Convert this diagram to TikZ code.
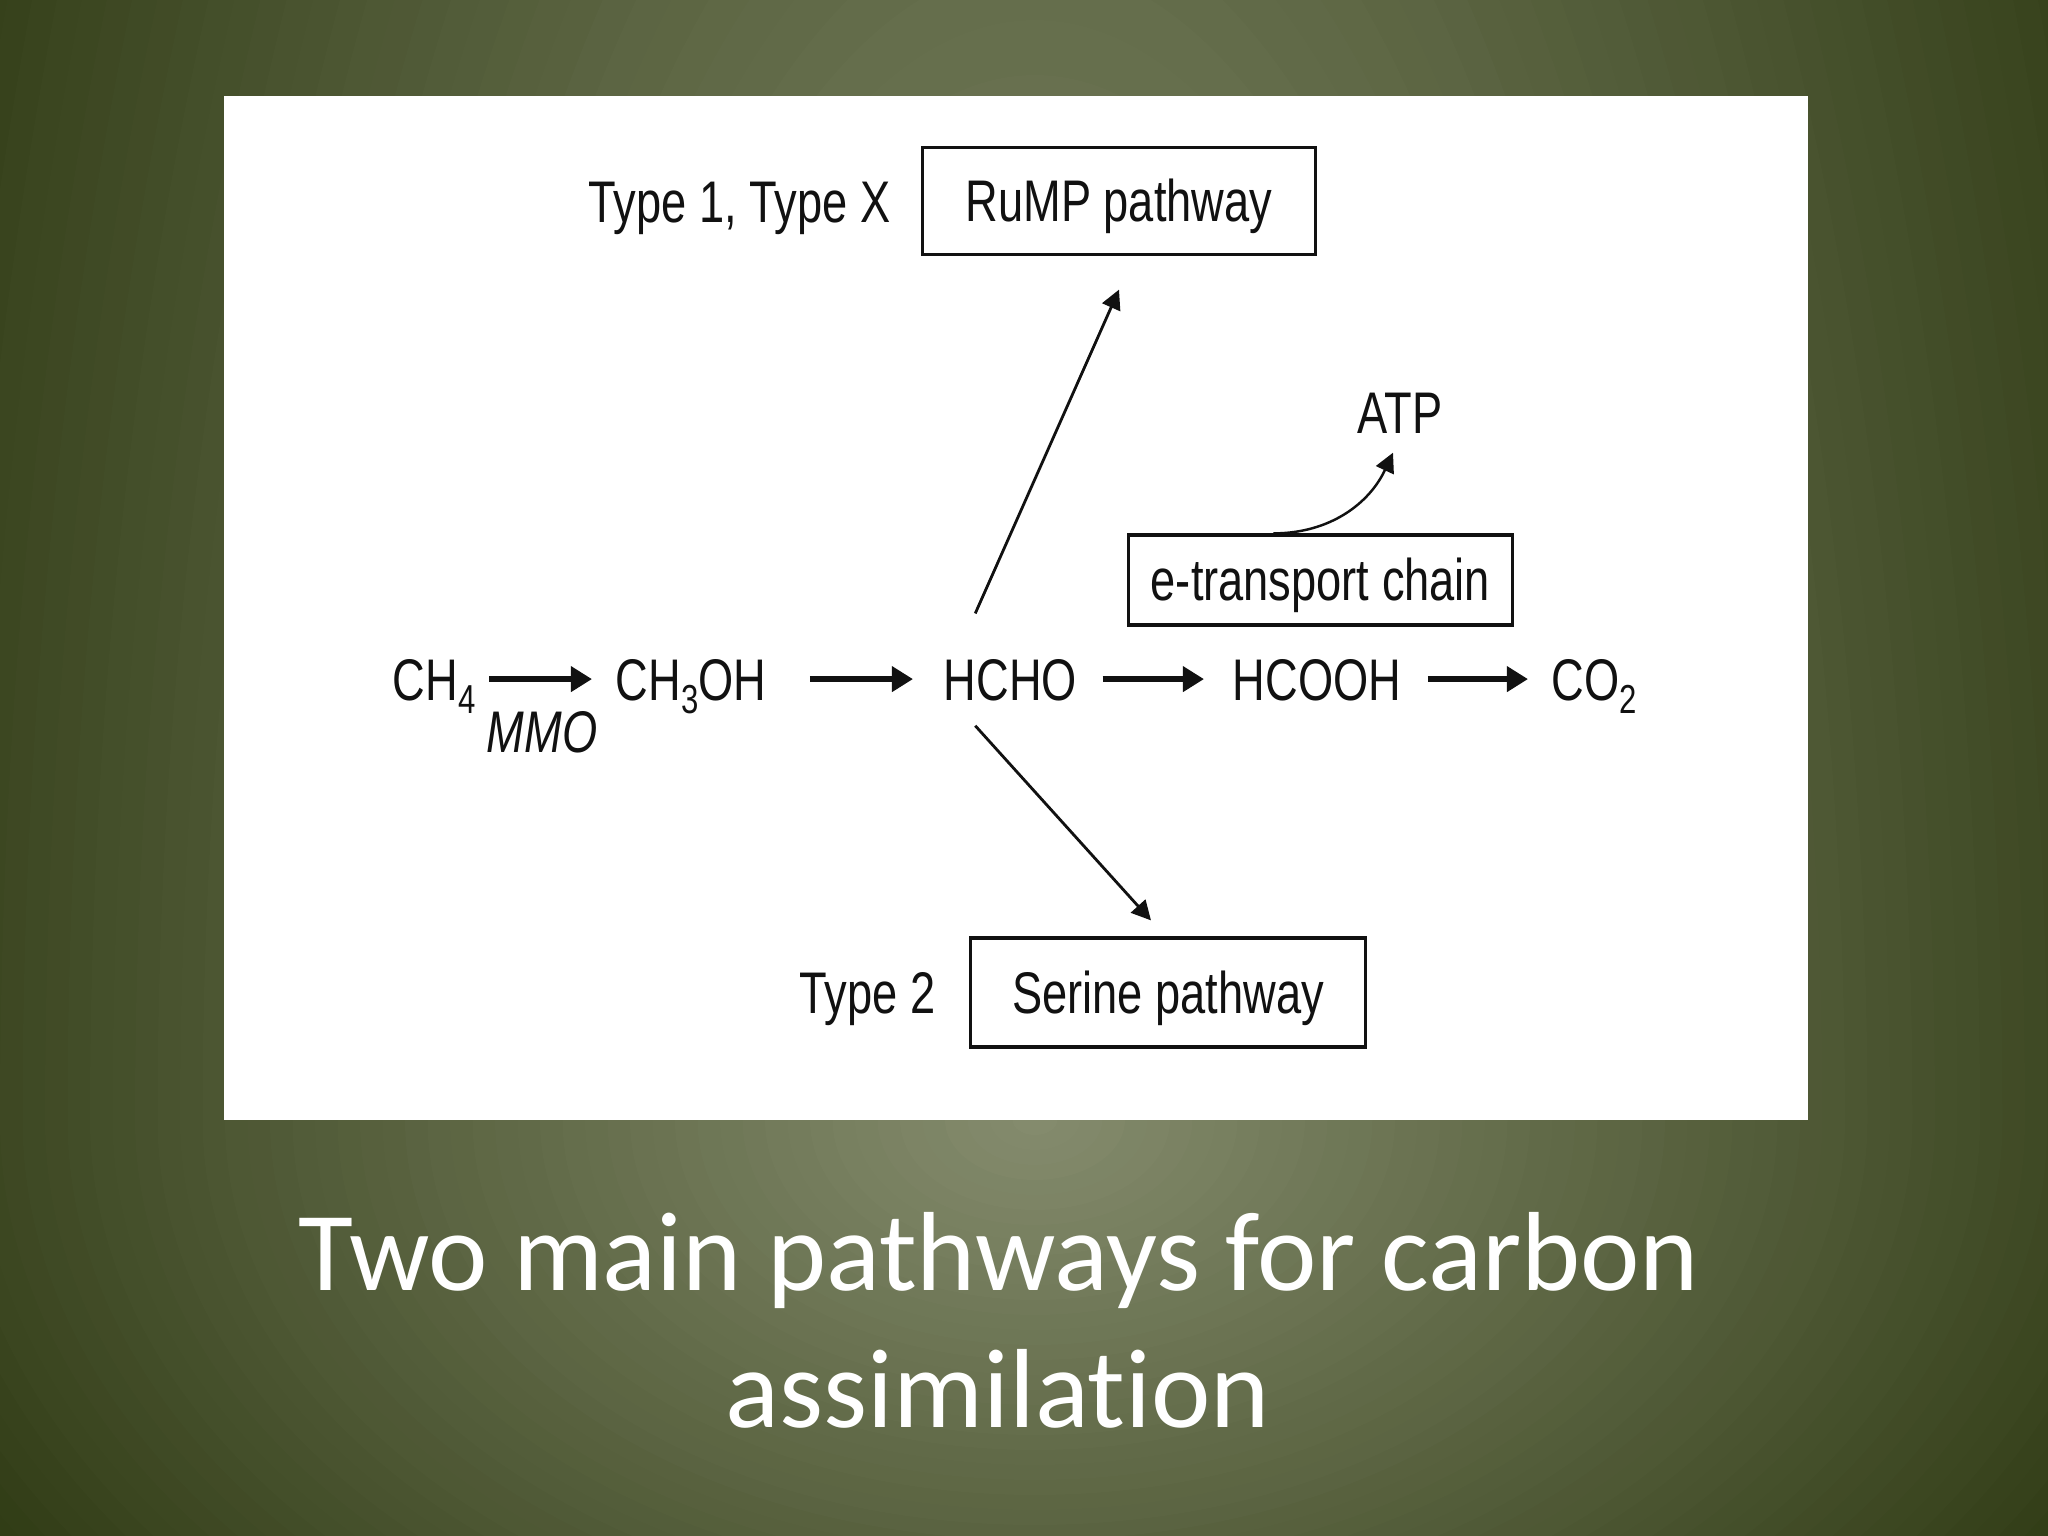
\documentclass[tikz,border=0pt]{standalone}
\usepackage{fontspec}
\setmainfont[FakeStretch=0.77]{Liberation Sans}
\newfontfamily\captionfont[Ligatures=NoCommon]{Carlito}
\usetikzlibrary{arrows.meta}

\definecolor{slidelight}{RGB}{134,141,111}
\definecolor{slidedark}{RGB}{40,52,12}
\definecolor{inkblack}{RGB}{17,17,17}

\newcommand{\diagfont}{\fontsize{16.7}{20}\selectfont}
\newcommand{\chemsub}[1]{\raisebox{-3.7pt}{\fontsize{11.5}{11.5}\selectfont #1}}

\begin{document}
\begin{tikzpicture}
[x=0.01cm,y=-0.01cm,
  chem/.style={inner sep=0pt,text height=11.9pt,text depth=0pt,anchor=base west,font=\diagfont,text=inkblack},%
  pathbox/.style={draw=inkblack,line width=0.9pt,inner sep=0pt,text height=11.9pt,text depth=0pt,font=\diagfont,text=inkblack},%
  mainarrow/.style={-{Triangle[length=6pt,width=7pt]},line width=1.5pt,draw=inkblack},%
  sidearrow/.style={-{Triangle[length=5.5pt,width=5.5pt]},line width=0.8pt,draw=inkblack},%
  caption/.style={inner sep=0pt,anchor=base,text=white,font=\captionfont\fontsize{32}{38}\selectfont}]
\useasboundingbox (0,0) rectangle (2048,1536);
%% slide background, rings from dark to light
\fill[slidedark] (0,0) rectangle (2048,1536);
\begin{scope}
  \clip (0,0) rectangle (2048,1120);
  \foreach \i in {60,59,...,1} {
    \pgfmathtruncatemacro\mix{100-\i*5/3}
    \fill[slidelight!\mix!slidedark] (1035,1120) ellipse [x radius=22.5*\i,y radius=55*\i];
  }
\end{scope}
\begin{scope}
  \clip (0,1120) rectangle (2048,1536);
  \foreach \i in {60,59,...,1} {
    \pgfmathtruncatemacro\mix{100-\i*5/3}
    \fill[slidelight!\mix!slidedark] (1035,1120) ellipse [x radius=22.5*\i,y radius=15*\i];
  }
\end{scope}
\fill[white] (224,96) rectangle (1808,1120);
%% nodes or compounds
\foreach \nodename/\x/\chemtext in {ch4/392/{CH\chemsub{4}}, ch3oh/615/{CH\chemsub{3}OH}, hcho/943/HCHO, hcooh/1232/HCOOH, co2/1551/{CO\chemsub{2}}} {
  \node[chem] (\nodename) at (\x,700) {\chemtext};
}
\node[chem] (mmo) at (486,752) {\itshape MMO};
\node[chem,anchor=base east] (typeone) at (891,222) {Type 1, Type X};
\node[chem,anchor=base east] (typetwo) at (936,1013) {Type 2};
\node[chem,anchor=base] (atp) at (1400,433) {ATP};
\node[pathbox,minimum width=3.92cm,minimum height=1.07cm] (rump) at (1119,201) {RuMP pathway};
\node[pathbox,minimum width=3.83cm,minimum height=0.90cm] (etc) at (1320.5,580) {e-transport chain};
\node[pathbox,minimum width=3.94cm,minimum height=1.09cm] (serine) at (1168,992.5) {Serine pathway};
%% edges or arrows
\path
\foreach \startnode/\endnode/\gapa/\gapb in {ch4/ch3oh/0.13/0.23, ch3oh/hcho/0.43/0.30, hcho/hcooh/0.25/0.28, hcooh/co2/0.26/0.23} {
  (\startnode) edge[mainarrow,shorten <=\gapa cm,shorten >=\gapb cm] (\endnode)
};
\draw[sidearrow] ([xshift=-0.35cm,yshift=0.44cm]hcho.north) -- ([yshift=-0.335cm]rump.south);
\draw[sidearrow] ([xshift=-0.35cm,yshift=-0.25cm]hcho.south) -- ([xshift=-0.17cm,yshift=0.16cm]serine.north);
\draw[sidearrow,line width=0.7pt] ([xshift=-0.47cm]etc.north) to[out=0,in=-115] ([xshift=-0.07cm,yshift=-0.19cm]atp.south);
%% caption
\node[caption] (capone) at (999,1290) {Two main pathways for carbon};
\node[caption] (captwo) at (998,1427) {assimilation};
\end{tikzpicture}
\end{document}
